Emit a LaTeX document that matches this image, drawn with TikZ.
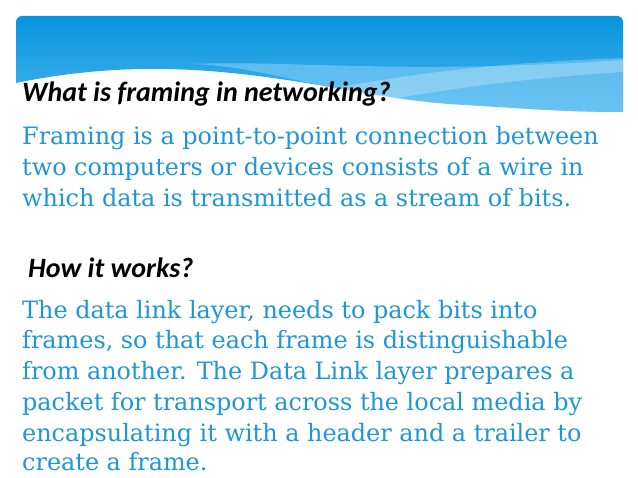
\documentclass[tikz,border=0pt]{standalone}
\usepackage{fontspec}
\setmainfont{DejaVu Serif}
\newfontfamily\headfont{Carlito}
\definecolor{txtblue}{RGB}{30,150,215}
\definecolor{bandtop}{RGB}{8,148,222}
\definecolor{bandbot}{RGB}{70,180,238}
\definecolor{bandlight}{RGB}{130,205,245}
\tikzset{
  head/.style={anchor=base west,inner sep=0pt,font=\headfont\bfseries\itshape\fontsize{28}{32}\selectfont,text=black},
  body/.style={anchor=base west,inner sep=0pt,text=txtblue,font=\fontsize{23.9}{30}\selectfont}
}
\begin{document}
\begin{tikzpicture}[x=1pt,y=-1pt]
\useasboundingbox[fill=white] (0,0) rectangle (638,478);
% banner
\shade[top color=bandtop,bottom color=bandbot,rounded corners=6pt]
  (16,83) -- (16,16) -- (623,16) [sharp corners] -- (623,112)
  .. controls (560,112) and (520,108) .. (450,104)
  .. controls (330,95) and (200,45) .. (16,83) -- cycle;
\fill[bandlight,opacity=0.6]
  (190,64) .. controls (300,60) and (400,75) .. (623,60) -- (623,112)
  .. controls (560,112) and (520,108) .. (450,104)
  .. controls (330,95) and (260,65) .. (190,64) -- cycle;
\fill[white,opacity=0.25]
  (300,95) .. controls (420,70) and (520,62) .. (623,58) -- (623,72)
  .. controls (520,78) and (430,92) .. (380,101) -- cycle;
\node[head] (h1) at (22,102) {What is framing in networking?};
\node[body] (p1a) at (22,145) {Framing is a point-to-point connection between};
\node[body] (p1b) at (22,176) {two computers or devices consists of a wire in};
\node[body] (p1c) at (22,207) {which data is transmitted as a stream of bits.};
\node[head] (h2) at (28,278) {How it works?};
\node[body] (p2a) at (22,319) {The data link layer, needs to pack bits into};
\node[body] (p2b) at (22,349) {frames, so that each frame is distinguishable};
\node[body] (p2c) at (22,380) {from another. The Data Link layer prepares a};
\node[body] (p2d) at (22,411) {packet for transport across the local media by};
\node[body] (p2e) at (22,442) {encapsulating it with a header and a trailer to};
\node[body] (p2f) at (22,471) {create a frame.};
\end{tikzpicture}
\end{document}
